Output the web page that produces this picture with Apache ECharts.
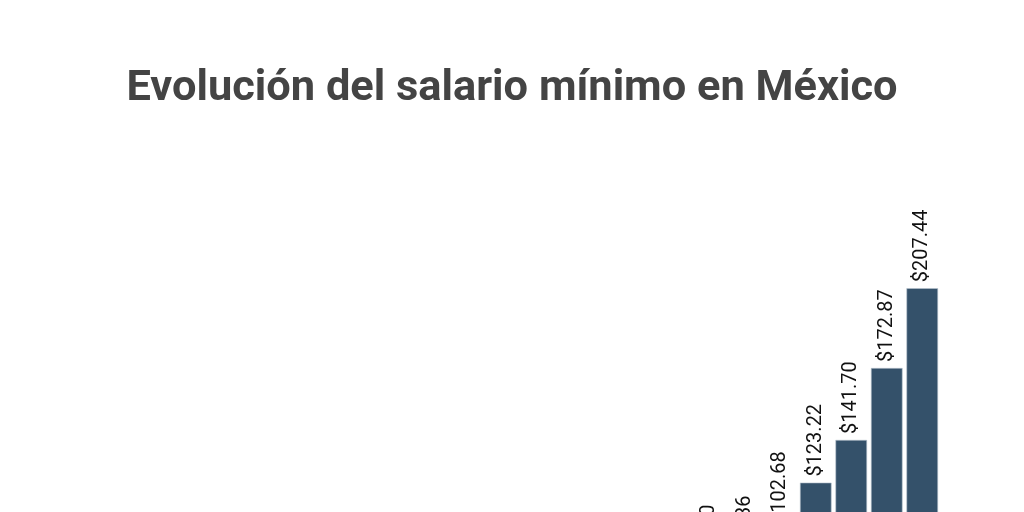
<!DOCTYPE html>
<html>
<head>
<meta charset="utf-8">
<script src="https://cdn.jsdelivr.net/npm/echarts@6/dist/echarts.min.js"></script>
<style>
html,body{margin:0;padding:0;background:#fff;overflow:hidden;}
#chart{width:1024px;height:860px;}
</style>
</head>
<body>
<div id="chart"></div>
<script>
const years = ['2000','2001','2002','2003','2004','2005','2006','2007','2008','2009','2010','2011','2012','2013','2014','2015','2016','2017','2018','2019','2020','2021','2022','2023'];
const salario = [37.90,40.35,42.15,43.65,45.24,46.80,48.67,50.57,52.59,54.80,57.46,59.82,62.33,64.76,67.29,70.10,73.04,84.50,88.36,102.68,123.22,141.70,172.87,207.44];

const chart = echarts.init(document.getElementById('chart'), null, {renderer:'canvas'});
chart.setOption({
  animation:false,
  backgroundColor:'#ffffff',
  title:{
    text:'Evolución del salario mínimo en México',
    left:'center',
    top:63,
    textStyle:{fontFamily:'Roboto',fontWeight:'bold',fontSize:43.4,color:'#444444'}
  },
  grid:{left:88,right:84,top:190,bottom:93},
  xAxis:{
    type:'category',
    data:years,
    axisTick:{show:false},
    axisLine:{show:false},
    axisLabel:{fontFamily:'Roboto',fontSize:16,color:'#444'}
  },
  yAxis:{
    type:'value',
    min:0,max:250,
    show:false,
    splitLine:{show:false}
  },
  series:[{
    type:'bar',
    data:salario,
    barCategoryGap:'11%',
    itemStyle:{color:'#34516a',borderColor:'#b8c4cf',borderWidth:0.6},
    label:{
      show:true,
      position:'top',
      rotate:90,
      align:'left',
      verticalAlign:'middle',
      distance:6,
      fontFamily:'Roboto',
      fontSize:20,
      color:'#111111',
      formatter:function(p){return '$'+p.value.toFixed(2);}
    }
  }]
});
</script>
</body>
</html>
